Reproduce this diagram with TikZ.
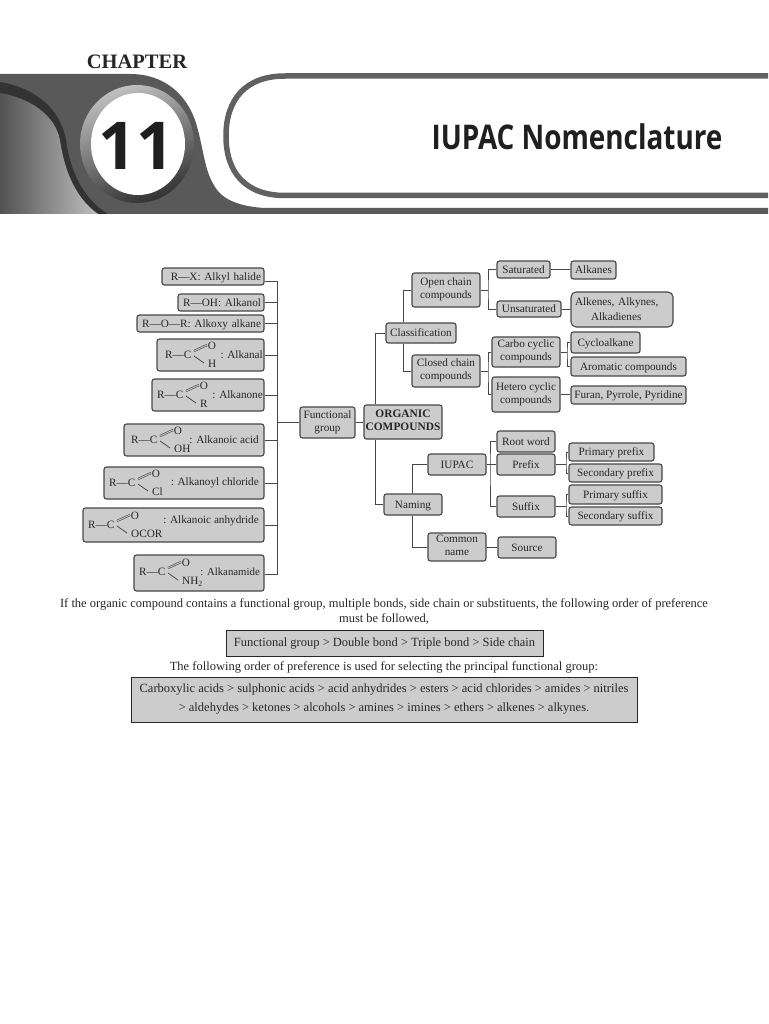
\documentclass[tikz,border=0pt]{standalone}
\usepackage{fontspec}
\setmainfont{Liberation Serif}
\newfontfamily\headfont{Open Sans}
\usetikzlibrary{positioning}

\newcommand{\acylgroup}[4]{%
    \node[formula, anchor=west] (#1rc) at (#2,#3) {R---C};
    \node[formula] (#1o) at (#2+47,#3-9) {O};
    \node[formula, anchor=west] (#1sub) at (#2+43,#3+9) {#4};
    \coordinate (#1c) at (#2+28,#3-2);
    \draw[doublebond] (#1c) ++(1,-2) -- ++(13,-6);
    \draw[singlebond] (#1c) ++(1,3) -- ++(10,7);
}

\begin{document}
\begin{tikzpicture}[
    x=1pt,
    y=-1pt,
    every node/.style={font=\fontsize{11.2}{13}\selectfont, text=black!85},
    strutted/.style={
        execute at begin node={\rule[-3.2pt]{0pt}{14pt}},
        execute at end node={\rule[-3.2pt]{0pt}{14pt}}
    },
    entity/.style={
        strutted,
        draw=black!72,
        fill=black!20,
        line width=1.1pt,
        rounded corners=2.5pt,
        inner sep=0pt,
        align=center
    },
    namebox/.style={
        entity,
        align=right,
        inner xsep=3pt
    },
    formula/.style={strutted, inner sep=0pt},
    tag/.style={strutted, inner sep=0pt, anchor=east},
    link/.style={draw=black!72, line width=1pt},
    doublebond/.style={draw=black!75, double=black!20, double distance=0.9pt, line width=0.6pt},
    singlebond/.style={draw=black!75, line width=0.7pt},
    prefbox/.style={
        strutted,
        draw=black!85,
        fill=black!20,
        line width=1pt,
        inner sep=0pt,
        align=center
    },
    bodyline/.style={
        strutted,
        inner sep=0pt,
        font=\fontsize{12.5}{15}\selectfont
    }
]

\useasboundingbox (0,0) rectangle (768,1024);
\fill[white] (0,0) rectangle (768,1024);

% ==========================================================
% CHAPTER BANNER
% ==========================================================

\fill[black!65]
(0,74) -- (130,74)
.. controls (165,74) and (187,95) .. (196,123)
.. controls (204,150) and (204,170) .. (215,187)
.. controls (224,202) and (245,207) .. (265,208)
-- (768,208) -- (768,214) -- (0,214) -- cycle;

\fill[black!80]
(0,82)
.. controls (35,88) and (60,108) .. (66,140)
.. controls (71,175) and (85,200) .. (108,214)
-- (0,214) -- cycle;

\shade[left color=black!68, right color=black!25]
(0,93)
.. controls (30,98) and (55,115) .. (60,140)
.. controls (65,175) and (78,200) .. (98,214)
-- (0,214) -- cycle;

\draw[draw=black!62, line width=5.5pt]
(768,76) -- (285,76)
.. controls (245,76) and (226,100) .. (226,136)
.. controls (226,172) and (245,195.5) .. (285,195.5)
-- (768,195.5);

\shade[top color=black!25, bottom color=black!80, shading angle=20]
(137,144) ellipse [x radius=57, y radius=59];
\fill[white] (138,144) ellipse [x radius=47, y radius=51];

\node[inner sep=0pt, font=\bfseries\fontsize{20.5}{22}\selectfont] (chapter) at (137,62) {CHAPTER};
\node[inner sep=0pt, font=\headfont\bfseries\fontsize{66}{72}\selectfont, text=black!88] (chapnum) at (136,146) {11};
\node[inner sep=0pt, xscale=0.82, font=\headfont\bfseries\fontsize{34}{38}\selectfont, text=black!88] (title) at (577,137) {IUPAC Nomenclature};

% ==========================================================
% FUNCTIONAL GROUP BOXES
% ==========================================================

\node[namebox, minimum width=102, minimum height=17, text width=96] (halide) at (213,276.5) {R---X: Alkyl halide};
\node[namebox, minimum width=86, minimum height=17, text width=80] (alkanol) at (221,302.5) {R---OH: Alkanol};
\node[namebox, minimum width=127, minimum height=17, text width=121] (alkoxy) at (200.5,323.5) {R---O---R: Alkoxy alkane};

\node[entity, minimum width=107, minimum height=32] (alkanal) at (210.5,355) {};
\acylgroup{alkanal}{165}{355}{H}
\node[tag] (alkanaltag) at (263,355) {: Alkanal};

\node[entity, minimum width=112, minimum height=32] (alkanone) at (208,395) {};
\acylgroup{alkanone}{157}{395}{R}
\node[tag] (alkanonetag) at (263,395) {: Alkanone};

\node[entity, minimum width=140, minimum height=32] (acid) at (194,440) {};
\acylgroup{acid}{131}{440}{OH}
\node[tag] (acidtag) at (259,440) {: Alkanoic acid};

\node[entity, minimum width=160, minimum height=32] (chloride) at (184,483) {};
\acylgroup{chloride}{109}{483}{Cl}
\node[tag] (chloridetag) at (259,482) {: Alkanoyl chloride};

\node[entity, minimum width=181, minimum height=34] (anhydride) at (173.5,525) {};
\acylgroup{anhydride}{88}{525}{OCOR}
\node[tag] (anhydridetag) at (259,520) {: Alkanoic anhydride};

\node[entity, minimum width=130, minimum height=36] (amide) at (199,573) {};
\acylgroup{amide}{139}{572}{NH\textsubscript{2}}
\node[tag, font=\fontsize{10.8}{13}\selectfont] (amidetag) at (260,572) {: Alkanamide};

% ==========================================================
% CENTRE BOXES
% ==========================================================

\node[entity, minimum width=55, minimum height=31] (functional) at (327.5,422.5) {Functional\\group};
\node[entity, minimum width=78, minimum height=34, font=\bfseries\fontsize{11.4}{13}\selectfont] (organic) at (403,422) {ORGANIC\\COMPOUNDS};

% ==========================================================
% CLASSIFICATION BRANCH
% ==========================================================

\node[entity, minimum width=70, minimum height=20] (classification) at (421,333) {Classification};
\node[entity, minimum width=68, minimum height=34] (openchain) at (446,290) {Open chain\\compounds};
\node[entity, minimum width=68, minimum height=32] (closedchain) at (446,371) {Closed chain\\compounds};
\node[entity, minimum width=53, minimum height=17] (saturated) at (523.5,269.5) {Saturated};
\node[entity, minimum width=45, minimum height=18] (alkanes) at (593.5,270) {Alkanes};
\node[entity, minimum width=64, minimum height=16] (unsaturated) at (529,309) {Unsaturated};
\node[entity, minimum width=102, minimum height=35, rounded corners=5pt, text width=94, align=left] (alkenes) at (622,309.5) {Alkenes, Alkynes,\\\hspace*{16pt}Alkadienes};
\node[entity, minimum width=68, minimum height=30] (carbo) at (526,352) {Carbo cyclic\\compounds};
\node[entity, minimum width=68, minimum height=35] (hetero) at (526,394.5) {Hetero cyclic\\compounds};
\node[entity, minimum width=69, minimum height=21] (cyclo) at (605.5,342.5) {Cycloalkane};
\node[entity, minimum width=115, minimum height=19] (aromatic) at (628.5,366.5) {Aromatic compounds};
\node[entity, minimum width=115, minimum height=18] (furan) at (628.5,395) {Furan, Pyrrole, Pyridine};

% ==========================================================
% NAMING BRANCH
% ==========================================================

\node[entity, minimum width=58, minimum height=21] (naming) at (413,504.5) {Naming};
\node[entity, minimum width=58, minimum height=21] (iupac) at (457,464.5) {IUPAC};
\node[entity, minimum width=58, minimum height=28] (common) at (457,547) {Common\\name};
\node[entity, minimum width=58, minimum height=21] (rootword) at (526,441.5) {Root word};
\node[entity, minimum width=58, minimum height=21] (prefix) at (526,464.5) {Prefix};
\node[entity, minimum width=58, minimum height=21] (suffix) at (526,506.5) {Suffix};
\node[entity, minimum width=58, minimum height=21] (source) at (527,547.5) {Source};
\node[entity, minimum width=85, minimum height=18] (pprefix) at (611.5,452) {Primary prefix};
\node[entity, minimum width=93, minimum height=18] (sprefix) at (615.5,473) {Secondary prefix};
\node[entity, minimum width=93, minimum height=19] (psuffix) at (615.5,494.5) {Primary suffix};
\node[entity, minimum width=93, minimum height=18] (ssuffix) at (615.5,516) {Secondary suffix};

% ==========================================================
% RELATIONSHIPS
% ==========================================================

\coordinate (trunktop) at (277,281);
\coordinate (trunkbot) at (277,574);
\coordinate (orgtrunk) at (375,422);
\coordinate (classtrunk) at (403,333);
\coordinate (namingtrunk) at (412,505);
\coordinate (openfork) at (488,290);
\coordinate (closedfork) at (488,371);
\coordinate (carbofork) at (567,352);
\coordinate (iupacfork) at (490,464.5);
\coordinate (prefixfork) at (566,464.5);
\coordinate (suffixfork) at (566,506.5);

\draw[link] (trunktop -| halide.east) -- (trunktop) -- (trunkbot) -- (trunkbot -| amide.east);
\draw[link] (alkanol.east) -- (alkanol.east -| trunktop);
\draw[link] (alkoxy.east) -- (alkoxy.east -| trunktop);
\draw[link] (alkanal.east) -- (alkanal.east -| trunktop);
\draw[link] (alkanone.east) -- (alkanone.east -| trunktop);
\draw[link] (acid.east) -- (acid.east -| trunktop);
\draw[link] (chloride.east) -- (chloride.east -| trunktop);
\draw[link] (anhydride.east) -- (anhydride.east -| trunktop);
\draw[link] (functional.west) -- (functional.west -| trunktop);
\draw[link] (functional.east) -- (organic.west |- functional.east);

\draw[link] (orgtrunk |- organic.north) |- (classification.west);
\draw[link] (orgtrunk |- organic.south) |- (naming.west);

\draw[link] (classtrunk |- classification.north) |- (openchain.west);
\draw[link] (classtrunk |- classification.south) |- (closedchain.west);
\draw[link] (openchain.east) -- (openfork);
\draw[link] (saturated.west) -| (openfork) |- (unsaturated.west);
\draw[link] (saturated.east) -- (alkanes.west |- saturated.east);
\draw[link] (unsaturated.east) -- (alkenes.west |- unsaturated.east);
\draw[link] (closedchain.east) -- (closedfork);
\draw[link] (carbo.west) -| (closedfork) |- (hetero.west);
\draw[link] (carbo.east) -- (carbofork);
\draw[link] (cyclo.west) -| (carbofork) |- (aromatic.west);
\draw[link] (hetero.east) -- (furan.west |- hetero.east);

\draw[link] (namingtrunk |- naming.north) |- (iupac.west);
\draw[link] (namingtrunk |- naming.south) |- (common.west);
\draw[link] (iupac.east) -- (prefix.west);
\draw[link] (rootword.west) -| (iupacfork) |- (suffix.west);
\draw[link] (prefix.east) -- (prefixfork);
\draw[link] (pprefix.west) -| (prefixfork) |- (sprefix.west);
\draw[link] (suffix.east) -- (suffixfork);
\draw[link] (psuffix.west) -| (suffixfork) |- (ssuffix.west);
\draw[link] (common.east) -- (source.west |- common.east);

% ==========================================================
% ORDER OF PREFERENCE
% ==========================================================

\node[bodyline] (intro) at (384,604) {If the organic compound contains a functional group, multiple bonds, side chain or substituents, the following order of preference};
\node[bodyline] (introtail) at (384,619) {must be followed,};
\node[prefbox, bodyline, draw=black!85, fill=black!20, minimum width=317, minimum height=26] (orderbox) at (384.5,643) {Functional group > Double bond > Triple bond > Side chain};
\node[bodyline] (second) at (384,667) {The following order of preference is used for selecting the principal functional group:};
\node[prefbox, font=\fontsize{12.5}{19}\selectfont, minimum width=506, minimum height=45] (groupbox) at (384,699.5) {Carboxylic acids > sulphonic acids > acid anhydrides > esters > acid chlorides > amides > nitriles\\> aldehydes > ketones > alcohols > amines > imines > ethers > alkenes > alkynes.};

\end{tikzpicture}
\end{document}
